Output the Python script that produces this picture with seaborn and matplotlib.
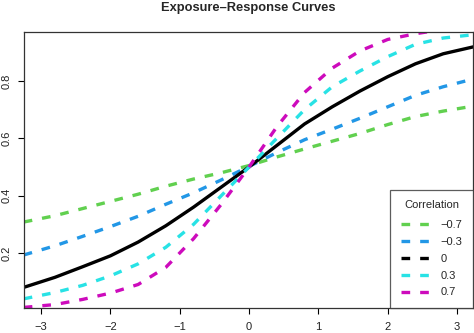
import numpy as np
import pandas as pd
import matplotlib
matplotlib.use("Agg")
import matplotlib.pyplot as plt
from matplotlib.lines import Line2D
import seaborn as sns

# ---- data ----
x_vals = [-3.25, -2.8, -2.4, -2.0, -1.6, -1.2, -0.8, -0.4, 0.0,
          0.4, 0.8, 1.2, 1.6, 2.0, 2.4, 2.8, 3.25]
corr_labels = ["\u22120.7", "\u22120.3", "0", "0.3", "0.7"]
p_m07 = [0.308, 0.330, 0.355, 0.380, 0.405, 0.433, 0.458, 0.480, 0.505,
         0.535, 0.563, 0.590, 0.617, 0.648, 0.676, 0.695, 0.713]
p_m03 = [0.193, 0.225, 0.258, 0.292, 0.328, 0.370, 0.410, 0.455, 0.502,
         0.550, 0.595, 0.632, 0.670, 0.710, 0.750, 0.780, 0.808]
p_0 = [0.080, 0.115, 0.152, 0.190, 0.238, 0.295, 0.360, 0.430, 0.500,
       0.575, 0.650, 0.710, 0.765, 0.815, 0.860, 0.895, 0.920]
p_03 = [0.040, 0.062, 0.087, 0.120, 0.162, 0.220, 0.300, 0.400, 0.500,
        0.600, 0.700, 0.780, 0.835, 0.885, 0.928, 0.950, 0.962]
p_07 = [0.010, 0.020, 0.038, 0.060, 0.090, 0.150, 0.250, 0.370, 0.500,
        0.640, 0.760, 0.845, 0.905, 0.945, 0.965, 0.980, 0.990]
series = [p_m07, p_m03, p_0, p_03, p_07]
colors = ["#61D04F", "#2297E6", "#000000", "#28E2E5", "#CD0BBC"]
x_ticks = [-3, -2, -1, 0, 1, 2, 3]
y_ticks = [0.2, 0.4, 0.6, 0.8]

rows = []
for lab, vals in zip(corr_labels, series):
    for xv, pv in zip(x_vals, vals):
        rows.append({"x": xv, "p": pv, "corr": lab})
df = pd.DataFrame(rows)

sns.set_style("white")
plt.rcParams["font.family"] = ["Liberation Sans", "DejaVu Sans"]

W, H = 474, 333
fig = plt.figure(figsize=(W / 100, H / 100), dpi=100)
ax = fig.add_axes([24 / W, (H - 308) / H, (473 - 24) / W, (308 - 32) / H])

dash = (2.6, 3.0)
dashes = {lab: ("" if lab == "0" else dash) for lab in corr_labels}
sns.lineplot(data=df, x="x", y="p", hue="corr", style="corr",
             hue_order=corr_labels, style_order=corr_labels,
             palette=dict(zip(corr_labels, colors)), dashes=dashes,
             linewidth=2.4, legend=False, ax=ax, sort=True)

ax.set_xlim(-3.246, 3.23)
ax.set_ylim(0.008, 0.971)
ax.set_xticks(x_ticks)
ax.set_xticklabels([("\u2212" if t < 0 else "") + str(abs(t)) for t in x_ticks])
ax.set_yticks(y_ticks)
ax.set_yticklabels([f"{t:.1f}" for t in y_ticks], rotation=90, va="center")
ax.set_xlabel("")
ax.set_ylabel("")
ax.tick_params(axis="both", which="both", direction="out", length=4,
               width=0.8, color="black", labelsize=8, labelcolor="#222222",
               left=True, bottom=True)
ax.tick_params(axis="x", pad=6)
ax.tick_params(axis="y", pad=5)
for s in ax.spines.values():
    s.set_visible(True)
    s.set_color("#333333")
    s.set_linewidth(0.9)

handles = [Line2D([], [], color=c, lw=2.4, dashes=dash) for c in colors]
leg = ax.legend(handles, corr_labels, title="Correlation", loc="lower right",
                borderaxespad=0, frameon=True, fancybox=False,
                handlelength=2.6, handletextpad=1.0, labelspacing=0.62,
                fontsize=8, title_fontsize=8, borderpad=0.95)
leg.get_frame().set_edgecolor("#333333")
leg.get_frame().set_linewidth(0.9)
leg._legend_box.sep = 7

fig.text((24 + 473) / 2 / W, 1 - 8 / H, "Exposure\u2013Response Curves",
         ha="center", va="center", fontsize=9.3, fontweight="bold")

fig.savefig("out.png", dpi=100)
